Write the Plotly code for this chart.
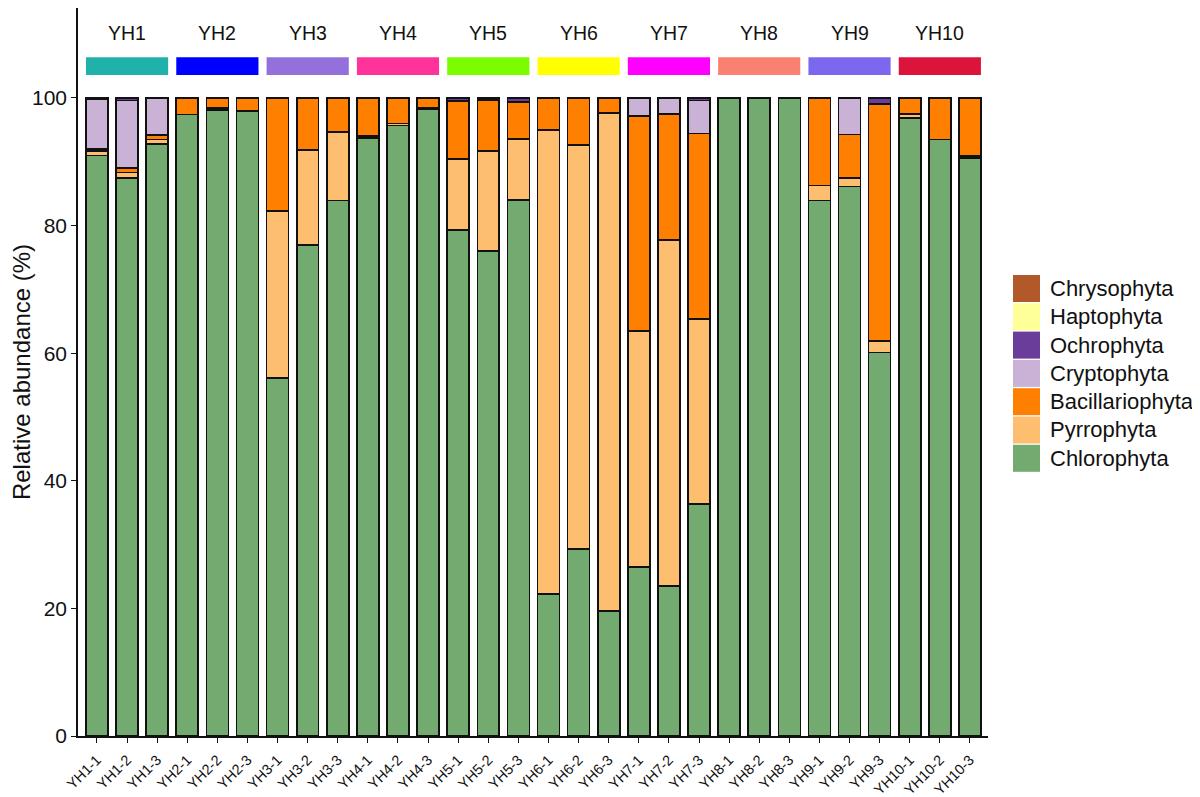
import plotly.graph_objects as go

# sample names and groups
samples = [f"YH{g}-{r}" for g in range(1, 11) for r in range(1, 4)]
groups = [f"YH{g}" for g in range(1, 11)]
group_colors = ["#20B2AA", "#0000FF", "#9370DB", "#FF3399", "#7CFC00",
                "#FFFF00", "#FF00FF", "#FA8072", "#7B68EE", "#DC143C"]

# relative abundance (%) per phylum, one value per sample
chlorophyta = [91.0, 87.5, 92.8, 97.4, 98.1, 98.0, 56.1, 77.0, 83.9, 93.7,
               95.7, 98.3, 79.3, 76.0, 84.0, 22.3, 29.3, 19.6, 26.5, 23.5,
               36.4, 100.0, 100.0, 100.0, 83.9, 86.1, 60.1, 96.9, 93.5, 90.6]
pyrrophyta = [0.7, 0.8, 0.7, 0.0, 0.3, 0.0, 26.2, 14.8, 10.8, 0.3,
              0.3, 0.1, 11.1, 15.7, 9.6, 72.7, 63.3, 78.0, 37.0, 54.2,
              29.0, 0.0, 0.0, 0.0, 2.4, 1.4, 1.8, 0.6, 0.0, 0.3]
bacillariophyta = [0.3, 0.7, 0.7, 2.6, 1.6, 2.0, 17.7, 8.2, 5.3, 6.0,
                   4.0, 1.6, 9.1, 8.0, 5.8, 5.0, 7.4, 2.4, 33.7, 19.8,
                   29.0, 0.0, 0.0, 0.0, 13.7, 6.8, 37.2, 2.5, 6.5, 9.1]
cryptophyta = [7.8, 10.6, 5.8, 0.0, 0.0, 0.0, 0.0, 0.0, 0.0, 0.0,
               0.0, 0.0, 0.0, 0.1, 0.0, 0.0, 0.0, 0.0, 2.8, 2.5,
               5.2, 0.0, 0.0, 0.0, 0.0, 5.7, 0.0, 0.0, 0.0, 0.0]
ochrophyta = [0.2, 0.3, 0.0, 0.0, 0.0, 0.0, 0.0, 0.0, 0.0, 0.0,
              0.0, 0.0, 0.5, 0.2, 0.6, 0.0, 0.0, 0.0, 0.0, 0.0,
              0.4, 0.0, 0.0, 0.0, 0.0, 0.0, 0.9, 0.0, 0.0, 0.0]
haptophyta = [0.0] * 30
chrysophyta = [0.0, 0.1, 0.0, 0.0, 0.0, 0.0, 0.0, 0.0, 0.0, 0.0,
               0.0, 0.0, 0.0, 0.0, 0.0, 0.0, 0.0, 0.0, 0.0, 0.0,
               0.0, 0.0, 0.0, 0.0, 0.0, 0.0, 0.0, 0.0, 0.0, 0.0]

series = [
    ("Chlorophyta", chlorophyta, "#72AA6F"),
    ("Pyrrophyta", pyrrophyta, "#FDBF6F"),
    ("Bacillariophyta", bacillariophyta, "#FF7F00"),
    ("Cryptophyta", cryptophyta, "#CAB2D6"),
    ("Ochrophyta", ochrophyta, "#6A3D9A"),
    ("Haptophyta", haptophyta, "#FFFF99"),
    ("Chrysophyta", chrysophyta, "#B15928"),
]

FONT = "Liberation Sans, Arial, sans-serif"
bar_w = 0.73

# page body adds an 8px margin, so the figure is drawn 8px smaller
W, H = 1192, 789
plot_l, plot_r, plot_t, plot_b = 70, 980, 0, 728

fig = go.Figure()
for name, vals, color in series:
    fig.add_trace(go.Bar(
        x=samples, y=vals, name=name, width=bar_w,
        marker=dict(color=color, line=dict(color="#111111", width=1.6)),
        showlegend=False,
    ))

shapes = []
annotations = []

# group colour strips and labels above the bars
for i, (g, c) in enumerate(zip(groups, group_colors)):
    x0 = 3 * i - bar_w / 2
    x1 = 3 * i + 2 + bar_w / 2
    shapes.append(dict(type="rect", xref="x", yref="y", x0=x0, x1=x1,
                       y0=103.6, y1=106.4, fillcolor=c, line=dict(width=0),
                       layer="above"))
    annotations.append(dict(x=3 * i + 1, y=110.2, xref="x", yref="y",
                            text=g, showarrow=False,
                            font=dict(size=19.5, color="#111111", family=FONT)))

# hand-drawn legend with large square swatches
def px_x(p):
    return (p - plot_l) / (plot_r - plot_l)

def px_y(p):
    return (plot_b - p) / (plot_b - plot_t)

for k, (name, vals, color) in enumerate(reversed(series)):
    cy = 280.5 + k * 28.3
    shapes.append(dict(type="rect", xref="paper", yref="paper",
                       x0=px_x(1005), x1=px_x(1032),
                       y0=px_y(cy + 13.5), y1=px_y(cy - 13.5),
                       fillcolor=color, line=dict(width=0)))
    annotations.append(dict(x=px_x(1040), y=px_y(cy), xref="paper", yref="paper",
                            text=name, showarrow=False, xanchor="left",
                            yanchor="middle",
                            font=dict(size=22, color="#111111", family=FONT)))

fig.update_layout(
    barmode="stack",
    width=W, height=H,
    margin=dict(l=plot_l, r=W - plot_r, t=plot_t, b=H - plot_b),
    plot_bgcolor="white",
    paper_bgcolor="white",
    font=dict(family=FONT, color="#111111"),
    shapes=shapes,
    annotations=annotations,
)

fig.update_xaxes(
    type="category",
    range=[-0.63, 29.6],
    automargin=False,
    showline=True, linecolor="#111111", linewidth=1.5,
    ticks="outside", ticklen=5, tickcolor="#111111", tickwidth=1.2,
    tickangle=-45, tickfont=dict(size=14.5, family=FONT, color="#111111"),
    ticklabelstandoff=3,
    showgrid=False, zeroline=False,
)
fig.update_yaxes(
    range=[0, 114.1],
    automargin=False,
    tickvals=[0, 20, 40, 60, 80, 100],
    showline=True, linecolor="#111111", linewidth=1.5,
    ticks="outside", ticklen=5, tickcolor="#111111", tickwidth=1.2,
    tickfont=dict(size=21, family=FONT, color="#111111"),
    title=dict(text="Relative abundance (%)", standoff=14,
               font=dict(size=24, family=FONT, color="#111111")),
    showgrid=False, zeroline=False,
)

fig.write_html("out.html")
